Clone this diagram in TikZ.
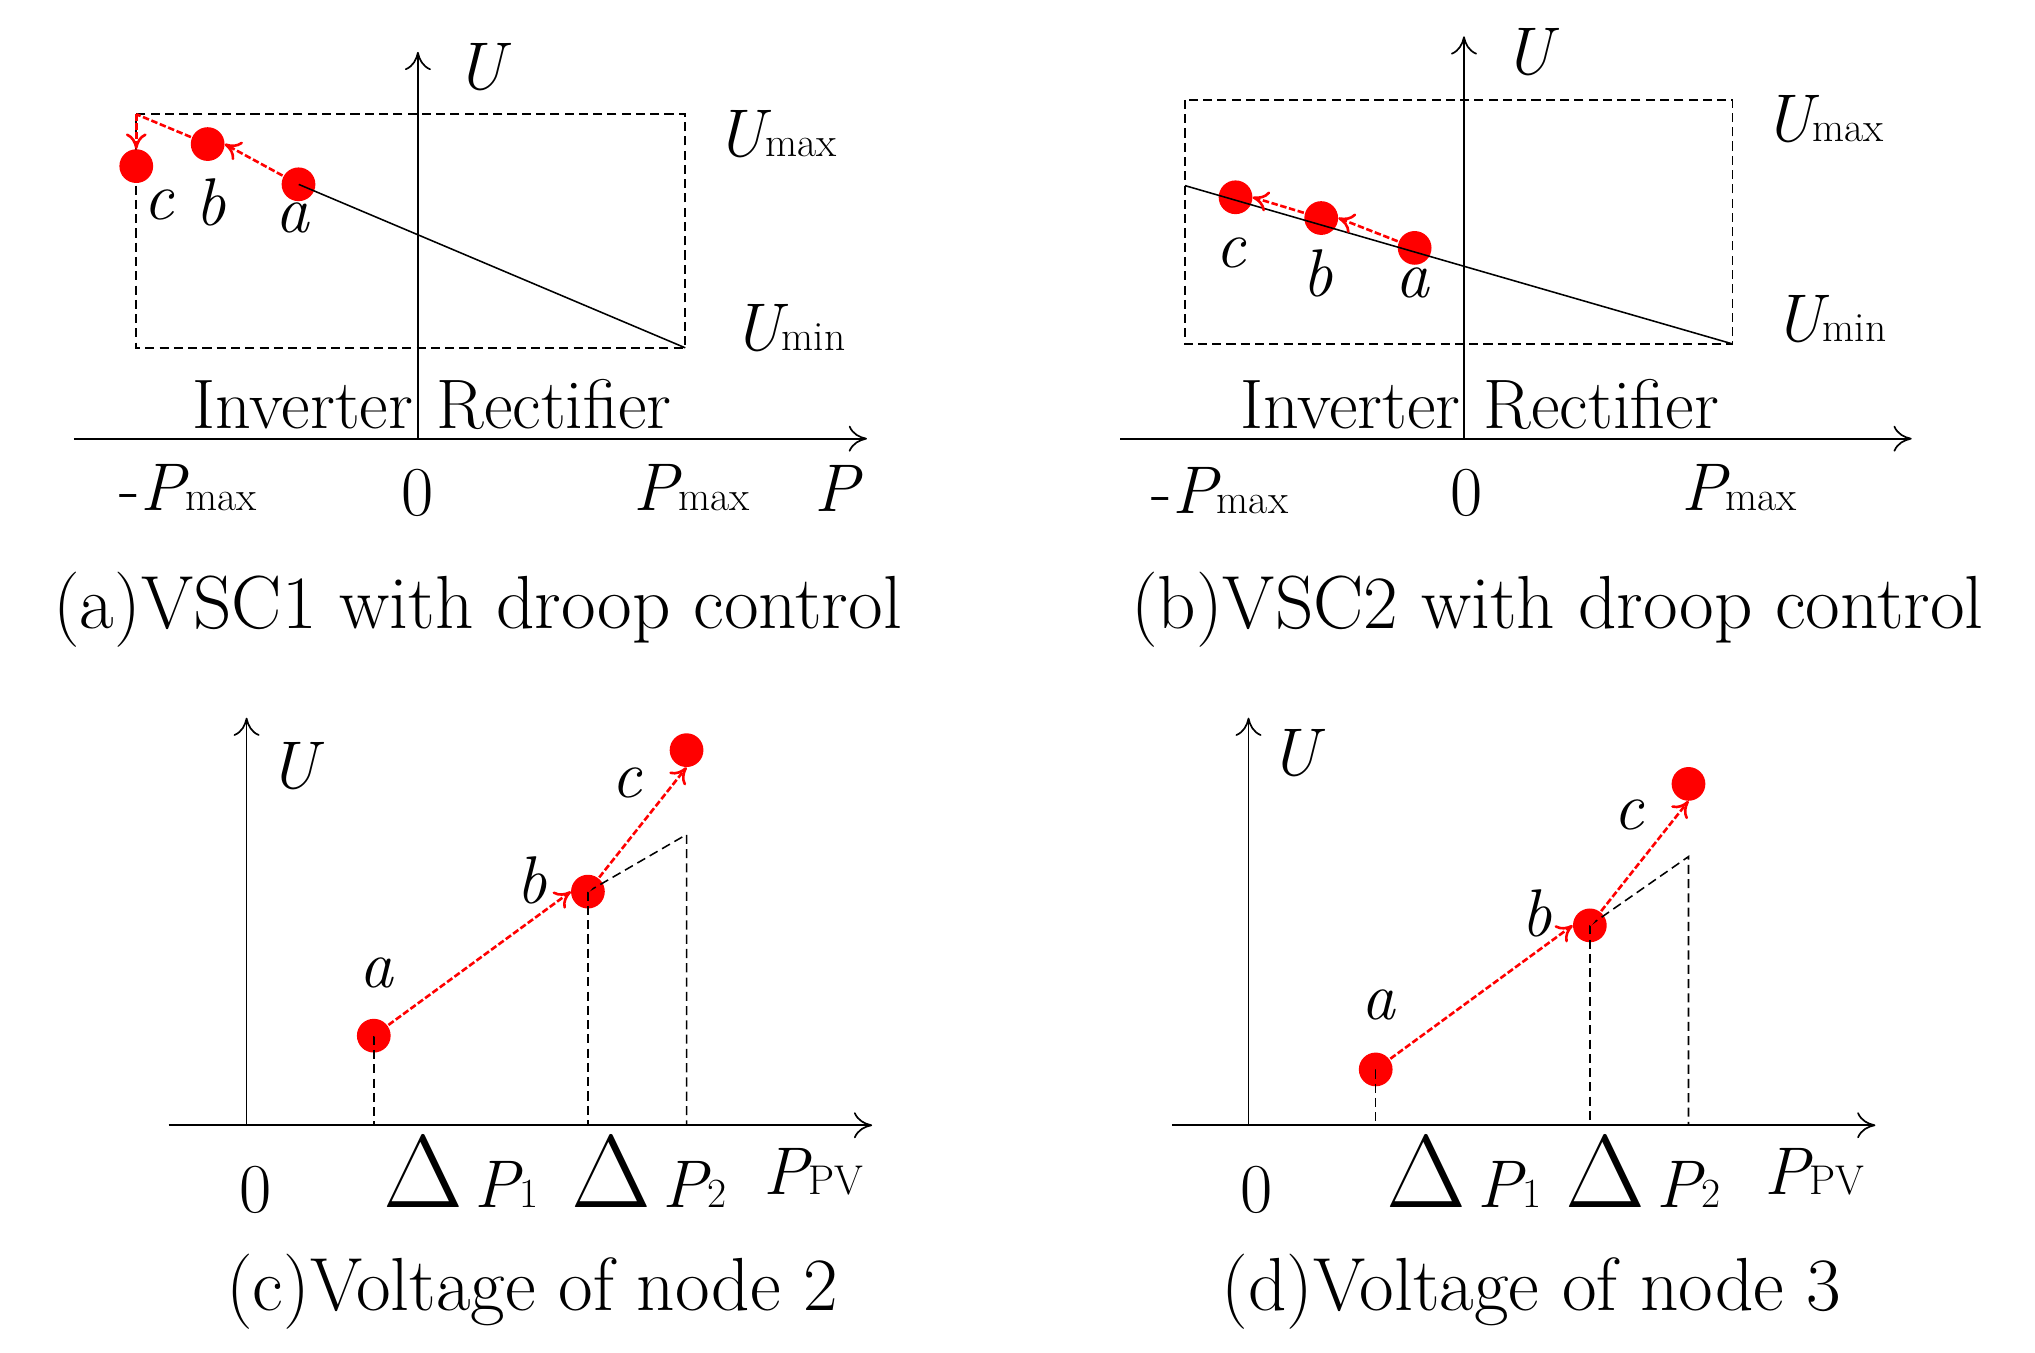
\documentclass[tikz,border=0pt]{standalone}
\usetikzlibrary{arrows.meta}
\begin{document}
\begin{tikzpicture}[x=1pt,y=-1pt,
 ax/.style={line width=1.3pt,-{To[length=14pt,width=20pt]}},
 bx/.style={dashed,line width=1.2pt,dash pattern=on 7pt off 4pt},
 rd/.style={red,line width=2pt,dash pattern=on 5pt off 2pt,-{To[length=12pt,width=16pt]}},
 dot/.style={circle,fill=red,minimum size=26pt,inner sep=0pt},
 lb/.style={font=\fontsize{52}{60}\selectfont\itshape},
 tx/.style={font=\fontsize{54}{62}\selectfont},
 captxt/.style={font=\fontsize{58}{66}\selectfont}]
\useasboundingbox (0,0) rectangle (1568,1042);
\newcommand{\sub}[1]{{\fontsize{32}{36}\selectfont\upshape #1}}
\newcommand{\dlt}{\upshape\scalebox{3.2}{$\Delta$}}
% ---------- (a)
\coordinate (ao) at (322,338); \coordinate (aU) at (322,40);
\coordinate (aL) at (57,338); \coordinate (aR) at (668,338);
\draw[ax] (ao) -- (aU); \draw[ax] (aL) -- (aR);
\draw[bx] (105,88) rectangle (528,268);
\coordinate (acor) at (105,88); \coordinate (aend) at (528,268);
\node[dot] (aa) at (230,142) {}; \node[dot] (ab) at (160,111) {}; \node[dot] (ac) at (105,128) {};
\draw[line width=1.2pt] (aa.center) -- (aend);
\draw[rd] (aa.center) -- (ab.east);
\draw[red,line width=2pt,dash pattern=on 5pt off 2pt] (ab.center) -- (acor);
\draw[rd] (acor) -- (ac.north);
\node[lb] at (122,158) {c}; \node[lb] at (162,156) {b}; \node[lb] at (225,168) {a};
\node[lb] at (370,52) {U}; \node[lb] at (598,103) {U\sub{max}}; \node[lb] at (608,253) {U\sub{min}};
\node[tx] at (333,312) {Inverter\,\,Rectifier};
\node[lb] at (145,376) {\upshape-\itshape P\sub{max}}; \node[tx] at (322,380) {0};
\node[lb] at (533,376) {P\sub{max}}; \node[lb] at (645,376) {P};
\node[captxt] at (368,470) {(a)VSC1 with droop control};
% ---------- (b)
\coordinate (bo) at (1128,338); \coordinate (bU) at (1128,28);
\coordinate (bL) at (863,338); \coordinate (bR) at (1473,338);
\draw[ax] (bo) -- (bU); \draw[ax] (bL) -- (bR);
\draw[bx] (913,77) rectangle (1335,265);
\coordinate (bst) at (913,143); \coordinate (bend) at (1335,265);
\node[dot] (ba) at (1090,191) {}; \node[dot] (bb) at (1018,168) {}; \node[dot] (bc) at (952,152) {};
\draw[line width=1.2pt] (bst) -- (bend);
\draw[rd] (ba.center) -- (bb.east); \draw[rd] (bb.center) -- (bc.east);
\node[lb] at (948,195) {c}; \node[lb] at (1015,211) {b}; \node[lb] at (1088,218) {a};
\node[lb] at (1177,40) {U}; \node[lb] at (1405,92) {U\sub{max}}; \node[lb] at (1410,246) {U\sub{min}};
\node[tx] at (1140,312) {Inverter\,\,Rectifier};
\node[lb] at (940,378) {\upshape-\itshape P\sub{max}}; \node[tx] at (1130,380) {0};
\node[lb] at (1340,376) {P\sub{max}};
\node[captxt] at (1200,470) {(b)VSC2 with droop control};
% ---------- (c)
\coordinate (co) at (190,867); \coordinate (cU) at (190,553);
\coordinate (cL) at (130,867); \coordinate (cR) at (672,867);
\draw[ax] (co) -- (cU); \draw[ax] (cL) -- (cR);
\node[dot] (ca) at (288,798) {}; \node[dot] (cb) at (453,687) {}; \node[dot] (cc) at (529,578) {};
\coordinate (cext) at (529,643);
\draw[bx] (ca.center) -- (288,867); \draw[bx] (cb.center) -- (453,867);
\draw[bx] (cb.center) -- (cext) -- (529,867);
\draw[rd] (ca.center) -- (cb.west); \draw[rd] (cb.center) -- (cc.south);
\node[lb] at (290,750) {a}; \node[lb] at (410,678) {b}; \node[lb] at (483,603) {c};
\node[lb] at (226,590) {U}; \node[tx] at (197,917) {0};
\node[lb] at (355,903) {\dlt\,\itshape P\sub{1}};
\node[lb] at (500,903) {\dlt\,\itshape P\sub{2}};
\node[lb] at (627,903) {P\sub{PV}};
\node[captxt] at (410,995) {(c)Voltage of node 2};
% ---------- (d)
\coordinate (do) at (962,867); \coordinate (dU) at (962,553);
\coordinate (dL) at (903,867); \coordinate (dR) at (1445,867);
\draw[ax] (do) -- (dU); \draw[ax] (dL) -- (dR);
\node[dot] (da) at (1060,824) {}; \node[dot] (db) at (1225,713) {}; \node[dot] (dc) at (1301,604) {};
\coordinate (dext) at (1301,660);
\draw[bx] (da.center) -- (1060,867); \draw[bx] (db.center) -- (1225,867);
\draw[bx] (db.center) -- (dext) -- (1301,867);
\draw[rd] (da.center) -- (db.west); \draw[rd] (db.center) -- (dc.south);
\node[lb] at (1062,774) {a}; \node[lb] at (1184,704) {b}; \node[lb] at (1255,628) {c};
\node[lb] at (997,580) {U}; \node[tx] at (968,917) {0};
\node[lb] at (1128,903) {\dlt\,\itshape P\sub{1}};
\node[lb] at (1266,903) {\dlt\,\itshape P\sub{2}};
\node[lb] at (1398,903) {P\sub{PV}};
\node[captxt] at (1180,995) {(d)Voltage of node 3};
\end{tikzpicture}
\end{document}
